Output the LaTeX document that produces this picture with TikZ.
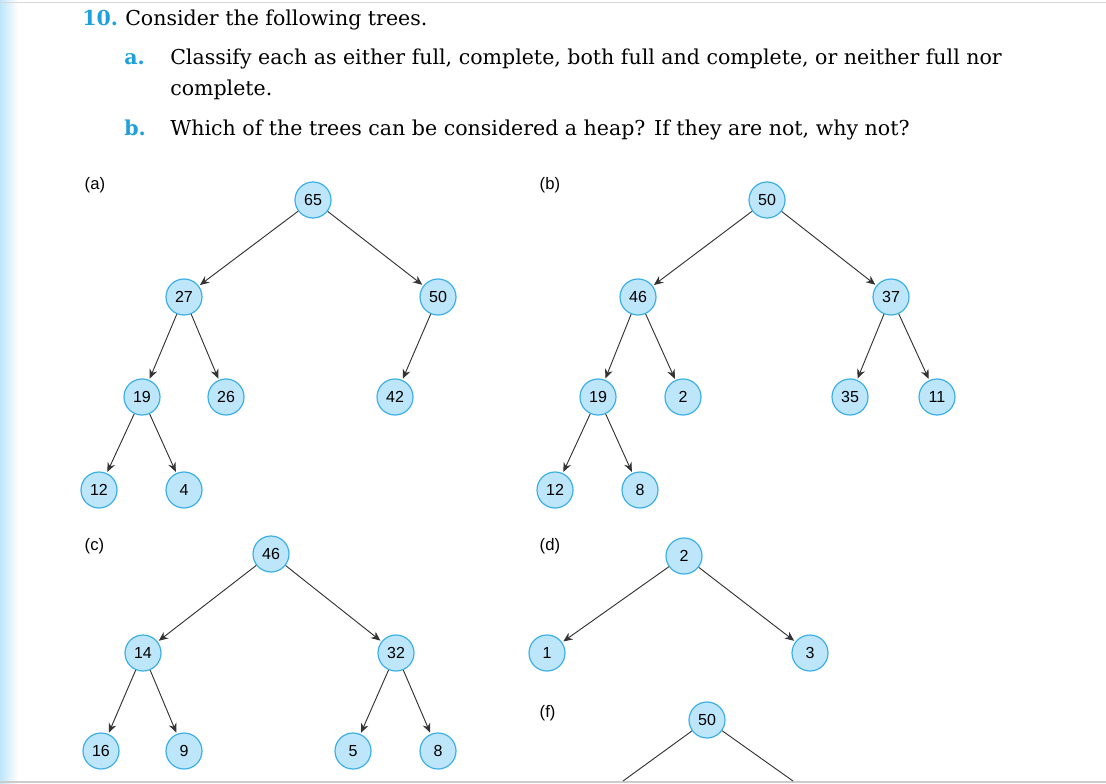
\documentclass[tikz,border=0pt]{standalone}
\usepackage{fontspec}
\setmainfont{DejaVu Serif}
\newfontfamily\numfont{Liberation Sans}
\usetikzlibrary{arrows.meta}
\definecolor{hblue}{RGB}{30,160,220}
\definecolor{nfill}{RGB}{190,230,250}
\definecolor{nline}{RGB}{60,175,230}
\tikzset{
 tn/.style={circle,draw=nline,fill=nfill,line width=0.9pt,minimum size=27pt,inner sep=0pt,font=\numfont\fontsize{12}{13}\selectfont},
 ed/.style={-{Stealth[length=7pt,width=6pt]},draw=black!80,line width=0.7pt,shorten >=1pt},
 pl/.style={font=\numfont\fontsize{12.5}{13}\selectfont,anchor=west},
 hd/.style={font=\fontsize{15.4}{17}\selectfont,anchor=base west,inner sep=0pt}
}
\begin{document}
\begin{tikzpicture}[x=0.75pt,y=-0.75pt]
\useasboundingbox (0,0) rectangle (1106,784);
\shade[left color=nfill,right color=white] (0,0) rectangle (18,784);
\draw[black!15] (0,2) -- (1106,2);
\draw[black!20,line width=1pt] (0,782) -- (1106,782);
% header
\node[hd,text=hblue] (n10) at (82,26) {\textbf{10.}};
\node[hd] (t0) at (125,26) {Consider the following trees.};
\node[hd,text=hblue] (la) at (124,65) {\textbf{a.}};
\node[hd] (ta) at (170,65) {Classify each as either full, complete, both full and complete, or neither full nor};
\node[hd] (ta2) at (170,96) {complete.};
\node[hd,text=hblue] (lb) at (124,136) {\textbf{b.}};
\node[hd] (tb) at (170,136) {Which of the trees can be considered a heap? If they are not, why not?};
% labels
\node[pl] (pa) at (80,185) {(a)};
\node[pl] (pb) at (535,185) {(b)};
\node[pl] (pc) at (80,546) {(c)};
\node[pl] (pd) at (535,546) {(d)};
\node[pl] (pf) at (535,713) {(f)};
% (a)
\node[tn] (a65) at (313,200) {65};
\node[tn] (a27) at (184,297) {27};
\node[tn] (a50) at (438,297) {50};
\node[tn] (a19) at (142,397) {19};
\node[tn] (a26) at (226,397) {26};
\node[tn] (a42) at (395,397) {42};
\node[tn] (a12) at (99,490) {12};
\node[tn] (a4) at (184,490) {4};
\draw[ed] (a65)--(a27); \draw[ed] (a65)--(a50);
\draw[ed] (a27)--(a19); \draw[ed] (a27)--(a26);
\draw[ed] (a50)--(a42);
\draw[ed] (a19)--(a12); \draw[ed] (a19)--(a4);
% (b)
\node[tn] (b50) at (767,200) {50};
\node[tn] (b46) at (638,297) {46};
\node[tn] (b37) at (891,297) {37};
\node[tn] (b19) at (598,397) {19};
\node[tn] (b2) at (683,397) {2};
\node[tn] (b35) at (850,397) {35};
\node[tn] (b11) at (937,397) {11};
\node[tn] (b12) at (555,490) {12};
\node[tn] (b8) at (640,490) {8};
\draw[ed] (b50)--(b46); \draw[ed] (b50)--(b37);
\draw[ed] (b46)--(b19); \draw[ed] (b46)--(b2);
\draw[ed] (b37)--(b35); \draw[ed] (b37)--(b11);
\draw[ed] (b19)--(b12); \draw[ed] (b19)--(b8);
% (c)
\node[tn] (c46) at (271,554) {46};
\node[tn] (c14) at (143,653) {14};
\node[tn] (c32) at (396,653) {32};
\node[tn] (c16) at (101,751) {16};
\node[tn] (c9) at (184,751) {9};
\node[tn] (c5) at (353,751) {5};
\node[tn] (c8) at (438,751) {8};
\draw[ed] (c46)--(c14); \draw[ed] (c46)--(c32);
\draw[ed] (c14)--(c16); \draw[ed] (c14)--(c9);
\draw[ed] (c32)--(c5); \draw[ed] (c32)--(c8);
% (d)
\node[tn] (d2) at (684,556) {2};
\node[tn] (d1) at (547,653) {1};
\node[tn] (d3) at (810,653) {3};
\draw[ed] (d2)--(d1); \draw[ed] (d2)--(d3);
% (f)
\node[tn] (f50) at (707,720) {50};
\coordinate (fl) at (623,781);
\coordinate (fr) at (793,781);
\draw[draw=black!80,line width=0.7pt] (f50)--(fl);
\draw[draw=black!80,line width=0.7pt] (f50)--(fr);
\end{tikzpicture}
\end{document}
